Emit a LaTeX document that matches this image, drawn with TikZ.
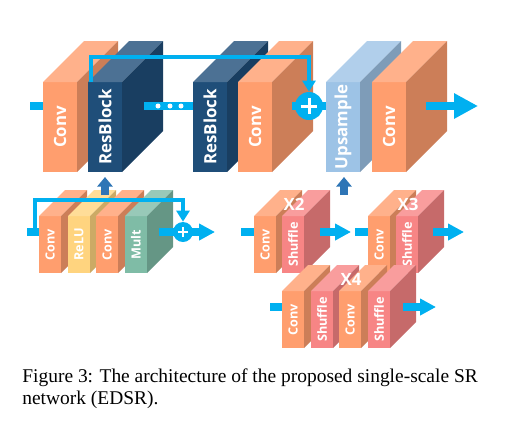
\documentclass[tikz,border=0pt]{standalone}
\usepackage{fontspec}
\setmainfont{Open Sans}
\newfontfamily\captionfont{Liberation Serif}
\usetikzlibrary{arrows.meta}
\definecolor{convcol}{HTML}{FF9E6E}
\definecolor{rescol}{HTML}{1F4E79}
\definecolor{upcol}{HTML}{9DC3E6}
\definecolor{shufflecol}{HTML}{F78585}
\definecolor{relucol}{HTML}{FFD47F}
\definecolor{multcol}{HTML}{7FBCA6}
\definecolor{linecol}{HTML}{00B0F0}
\definecolor{stackcol}{HTML}{2E75B6}
\tikzset{
    stub/.style={linecol,line width=1.6mm},
    bigarrow/.style={stub,-{Triangle[length=4.8mm,width=4.8mm]}},
    smallarrow/.style={stub,-{Triangle[length=3.2mm,width=3.2mm]}},
    skipline/.style={linecol,line width=0.65mm,-{Triangle[length=2.2mm,width=2.6mm]}},
    stackarrow/.style={stackcol,line width=1.6mm,-{Triangle[length=1.9mm,width=3mm]}},
    addnode/.style={circle,fill=linecol,inner sep=0pt},
    plusmark/.style={white,line width=0.6mm,shorten >=1.2mm,shorten <=1.2mm},
    smallplus/.style={white,line width=0.35mm,shorten >=1.05mm,shorten <=1.05mm},
    scalelabel/.style={text=white,font=\fontsize{9.6}{10}\selectfont\bfseries},
}
\newcommand{\cuboid}[9]{
    \node[fill=#7,inner sep=0pt,outer sep=0pt,minimum width=#4*0.2mm,minimum height=#5*0.2mm] (#1) at ({#2+#4/2},{#3+#5/2}) {};
    \fill[#7!80!white] (#1.north west) -- ++(#6,-#6) -- ++(#4,0) -- (#1.north east) -- cycle;
    \fill[#7!80!black] (#1.north east) -- ++(#6,-#6) -- ++(0,#5) -- (#1.south east) -- cycle;
    \node[text=white,rotate=90,font=#9] (#1label) at (#1) {#8};
}
\newcommand{\bigblock}[4]{\cuboid{#1}{#2}{82}{34}{90}{41}{#3}{#4}{\fontsize{9.6}{10}\selectfont\bfseries}}
\newcommand{\smallblock}[5]{\cuboid{#1}{#2}{#3}{22}{57}{26}{#4}{#5}{\fontsize{7.2}{8}\selectfont\bfseries}}

\begin{document}
\begin{tikzpicture}[x=0.2mm,y=-0.2mm]
    \useasboundingbox (0,0) rectangle (507,433);
    % top row
    \coordinate (in1) at (30,106);
    \bigblock{conv1}{43}{convcol}{Conv}
    \draw[stub] (in1) -- (conv1.west |- in1);
    \bigblock{res1}{88}{rescol}{ResBlock}
    \bigblock{res2}{193}{rescol}{ResBlock}
    \bigblock{conv2}{238}{convcol}{Conv}
    \coordinate (dotsin) at (144,106);
    \draw[stub] (dotsin) -- (res2.west |- dotsin);
    \foreach \i/\x in {1/158,2/170,3/181}
        \node[circle,fill=white,inner sep=0pt,minimum size=1mm] (dot\i) at (\x,106) {};
    \bigblock{upsample}{326}{upcol}{Upsample}
    \bigblock{conv3}{372}{convcol}{Conv}
    \coordinate (plus1in) at (292,106);
    \draw[stub] (plus1in) -- (upsample.west |- plus1in);
    \node[addnode,minimum size=5.6mm] (plus1) at (309,106) {};
    \draw[plusmark] (plus1.west) -- (plus1.east);
    \draw[plusmark] (plus1.north) -- (plus1.south);
    \coordinate (skip1) at (91,82);
    \draw[skipline,line width=0.85mm] (skip1) -- ++(0,-25) -| (plus1.north);
    \coordinate (out1) at (426,106);
    \coordinate (out1end) at (478,106);
    \draw[bigarrow] (out1) -- (out1end);
    % residual block
    \coordinate (in2) at (27,232);
    \smallblock{conv4}{39}{216}{convcol}{Conv}
    \draw[stub] (in2) -- (conv4.west |- in2);
    \smallblock{relu}{68}{216}{relucol}{ReLU}
    \smallblock{conv5}{96}{216}{convcol}{Conv}
    \smallblock{mult}{125}{216}{multcol}{Mult}
    \coordinate (plus2in) at (159,232);
    \coordinate (out2) at (215,232);
    \draw[smallarrow] (plus2in) -- (out2);
    \node[addnode,minimum size=4mm] (plus2) at (183,232) {};
    \draw[smallplus] (plus2.west) -- (plus2.east);
    \draw[smallplus] (plus2.north) -- (plus2.south);
    \coordinate (skip2) at (35,232);
    \draw[skipline] (skip2) -- ++(0,-32) -| (plus2.north);
    % upscale x2
    \coordinate (in3) at (241,232);
    \smallblock{conv6}{254}{216}{convcol}{Conv}
    \draw[stub] (in3) -- (conv6.west |- in3);
    \smallblock{shuffle1}{282}{216}{shufflecol}{Shuffle}
    \coordinate (out3) at (320,232);
    \coordinate (out3end) at (351,232);
    \draw[smallarrow] (out3) -- (out3end);
    \node[scalelabel] (x2) at (294,204) {X2};
    % upscale x3
    \coordinate (in4) at (355,232);
    \smallblock{conv7}{368}{216}{convcol}{Conv}
    \draw[stub] (in4) -- (conv7.west |- in4);
    \smallblock{shuffle2}{396}{216}{shufflecol}{Shuffle}
    \coordinate (out4) at (433,232);
    \coordinate (out4end) at (464,232);
    \draw[smallarrow] (out4) -- (out4end);
    \node[scalelabel] (x3) at (408,204) {X3};
    % upscale x4
    \coordinate (in5) at (270,307);
    \smallblock{conv8}{282}{291}{convcol}{Conv}
    \draw[stub] (in5) -- (conv8.west |- in5);
    \smallblock{shuffle3}{311}{291}{shufflecol}{Shuffle}
    \smallblock{conv9}{339}{291}{convcol}{Conv}
    \smallblock{shuffle4}{368}{291}{shufflecol}{Shuffle}
    \coordinate (out5) at (403,307);
    \coordinate (out5end) at (436,307);
    \draw[smallarrow] (out5) -- (out5end);
    \node[scalelabel] (x4) at (351,279) {X4};
    % arrows between rows
    \coordinate (up1) at (105,195);
    \coordinate (up1end) at (105,177);
    \coordinate (up2) at (344,195);
    \coordinate (up2end) at (344,177);
    \draw[stackarrow] (up1) -- (up1end);
    \draw[stackarrow] (up2) -- (up2end);
    % caption
    \node[anchor=north west,inner sep=0pt,align=left,font=\captionfont\fontsize{11.07}{13}\selectfont] (caption) at (22,368)
        {Figure 3: The architecture of the proposed single-scale SR\\network (EDSR).};
\end{tikzpicture}
\end{document}
